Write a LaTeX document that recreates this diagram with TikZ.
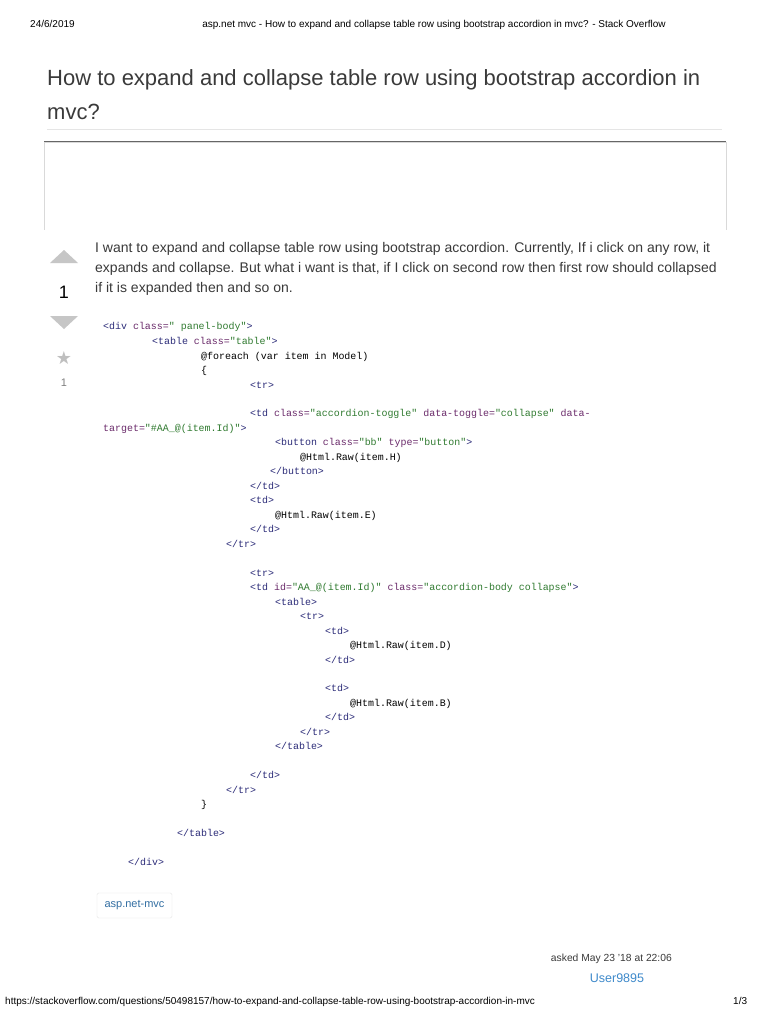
\documentclass[tikz,border=0pt]{standalone}
\usepackage{fontspec}
\setmainfont{Liberation Sans}
\setmonofont{Liberation Mono}
\newfontfamily\symf{DejaVu Sans}
\definecolor{tagc}{HTML}{2B2B78}
\definecolor{attc}{HTML}{6A2A6A}
\definecolor{strc}{HTML}{2F7A2F}
\definecolor{txt}{HTML}{3A3A3A}
\definecolor{lnk}{HTML}{3F8ACB}
\newcommand{\Tg}[1]{\textcolor{tagc}{#1}}
\newcommand{\At}[1]{\textcolor{attc}{#1}}
\newcommand{\St}[1]{\textcolor{strc}{#1}}
\begin{document}
\begin{tikzpicture}[x=1pt,y=-1pt,
  code/.style={anchor=base west,inner sep=0pt,font=\ttfamily\fontsize{9.95}{10}\selectfont,text=black},
  body/.style={anchor=base west,inner sep=0pt,font=\fontsize{14}{16}\selectfont,text=txt},
  small/.style={anchor=base west,inner sep=0pt,font=\fontsize{10}{11}\selectfont,text=black}]
\useasboundingbox[fill=white] (0,0) rectangle (768,1024);
\node[small] (date) at (30,28) {24/6/2019};
\node[small,anchor=base] (hdr) at (434,28) {asp.net mvc - How to expand and collapse table row using bootstrap accordion in mvc? - Stack Overflow};
\node[anchor=base west,inner sep=0pt,font=\fontsize{22}{24}\selectfont,text=txt] (t1) at (47,86) {How to expand and collapse table row using bootstrap accordion in};
\node[anchor=base west,inner sep=0pt,font=\fontsize{22}{24}\selectfont,text=txt] (t2) at (47,120) {mvc?};
\draw[gray!20] (47,129) -- (722,129);
\draw[gray!30] (44,230) -- (44,142) -- (726,142) -- (726,230);
\draw[gray!80!black,line width=1pt] (44,142) -- (726,142);
\fill[gray!45] (50,263) -- (78,263) -- (64,250) -- cycle;
\node[anchor=base,inner sep=0pt,font=\fontsize{18}{20}\selectfont] (votes) at (64,298) {1};
\fill[gray!45] (50,316) -- (78,316) -- (64,329) -- cycle;
\node[anchor=base,inner sep=0pt,font=\symf\fontsize{18}{20}\selectfont,text=gray!50] (star) at (64,364) {★};
\node[anchor=base,inner sep=0pt,font=\fontsize{11}{12}\selectfont,text=gray] (favs) at (64,386) {1};
\node[body] (b1) at (95,252) {I want to expand and collapse table row using bootstrap accordion. Currently, If i click on any row, it};
\node[body] (b2) at (95,272) {expands and collapse. But what i want is that, if I click on second row then first row should collapsed};
\node[body] (b3) at (95,292) {if it is expanded then and so on.};
\node[code] (c1) at (103,329) {\Tg{<div} \At{class=}\St{" panel-body"}\Tg{>}};
\node[code] (c2) at (152,344) {\Tg{<table} \At{class=}\St{"table"}\Tg{>}};
\node[code] (c3) at (201,359) {@foreach (var item in Model)};
\node[code] (c4) at (201,373) {\{};
\node[code] (c5) at (250,388) {\Tg{<tr>}};
\node[code] (c6) at (250,416) {\Tg{<td} \At{class=}\St{"accordion-toggle"} \At{data-toggle=}\St{"collapse"} \At{data-}};
\node[code] (c7) at (103,431) {\At{target=}\St{"\#AA\_@(item.Id)"}\Tg{>}};
\node[code] (c8) at (275,445) {\Tg{<button} \At{class=}\St{"bb"} \At{type=}\St{"button"}\Tg{>}};
\node[code] (c9) at (300,460) {@Html.Raw(item.H)};
\node[code] (c10) at (270,474) {\Tg{</button>}};
\node[code] (c11) at (250,489) {\Tg{</td>}};
\node[code] (c12) at (250,503) {\Tg{<td>}};
\node[code] (c13) at (275,518) {@Html.Raw(item.E)};
\node[code] (c14) at (250,532) {\Tg{</td>}};
\node[code] (c15) at (226,547) {\Tg{</tr>}};
\node[code] (c16) at (250,576) {\Tg{<tr>}};
\node[code] (c17) at (250,590) {\Tg{<td} \At{id=}\St{"AA\_@(item.Id)"} \At{class=}\St{"accordion-body collapse"}\Tg{>}};
\node[code] (c18) at (275,605) {\Tg{<table>}};
\node[code] (c19) at (300,619) {\Tg{<tr>}};
\node[code] (c20) at (325,634) {\Tg{<td>}};
\node[code] (c21) at (350,648) {@Html.Raw(item.D)};
\node[code] (c22) at (325,663) {\Tg{</td>}};
\node[code] (c23) at (325,691) {\Tg{<td>}};
\node[code] (c24) at (350,706) {@Html.Raw(item.B)};
\node[code] (c25) at (325,720) {\Tg{</td>}};
\node[code] (c26) at (300,735) {\Tg{</tr>}};
\node[code] (c27) at (275,749) {\Tg{</table>}};
\node[code] (c28) at (250,778) {\Tg{</td>}};
\node[code] (c29) at (226,793) {\Tg{</tr>}};
\node[code] (c30) at (201,807) {\}};
\node[code] (c31) at (177,836) {\Tg{</table>}};
\node[code] (c32) at (128,865) {\Tg{</div>}};
\node[draw=gray!20,fill=white,rounded corners=1.5pt,inner sep=0pt,minimum width=75pt,minimum height=25pt,font=\fontsize{11}{12}\selectfont,text=lnk!80!black] (tag) at (134.5,905.5) {asp.net-mvc};
\node[anchor=base east,inner sep=0pt,font=\fontsize{10.3}{12}\selectfont,text=txt] (asked) at (672,961) {asked May 23 '18 at 22:06};
\node[anchor=base,inner sep=0pt,font=\fontsize{12.5}{14}\selectfont,text=lnk] (user) at (617,982) {User9895};
\node[small] (url) at (5,1004) {https://stackoverflow.com/questions/50498157/how-to-expand-and-collapse-table-row-using-bootstrap-accordion-in-mvc};
\node[small] (pg) at (733,1004) {1/3};
\end{tikzpicture}
\end{document}
